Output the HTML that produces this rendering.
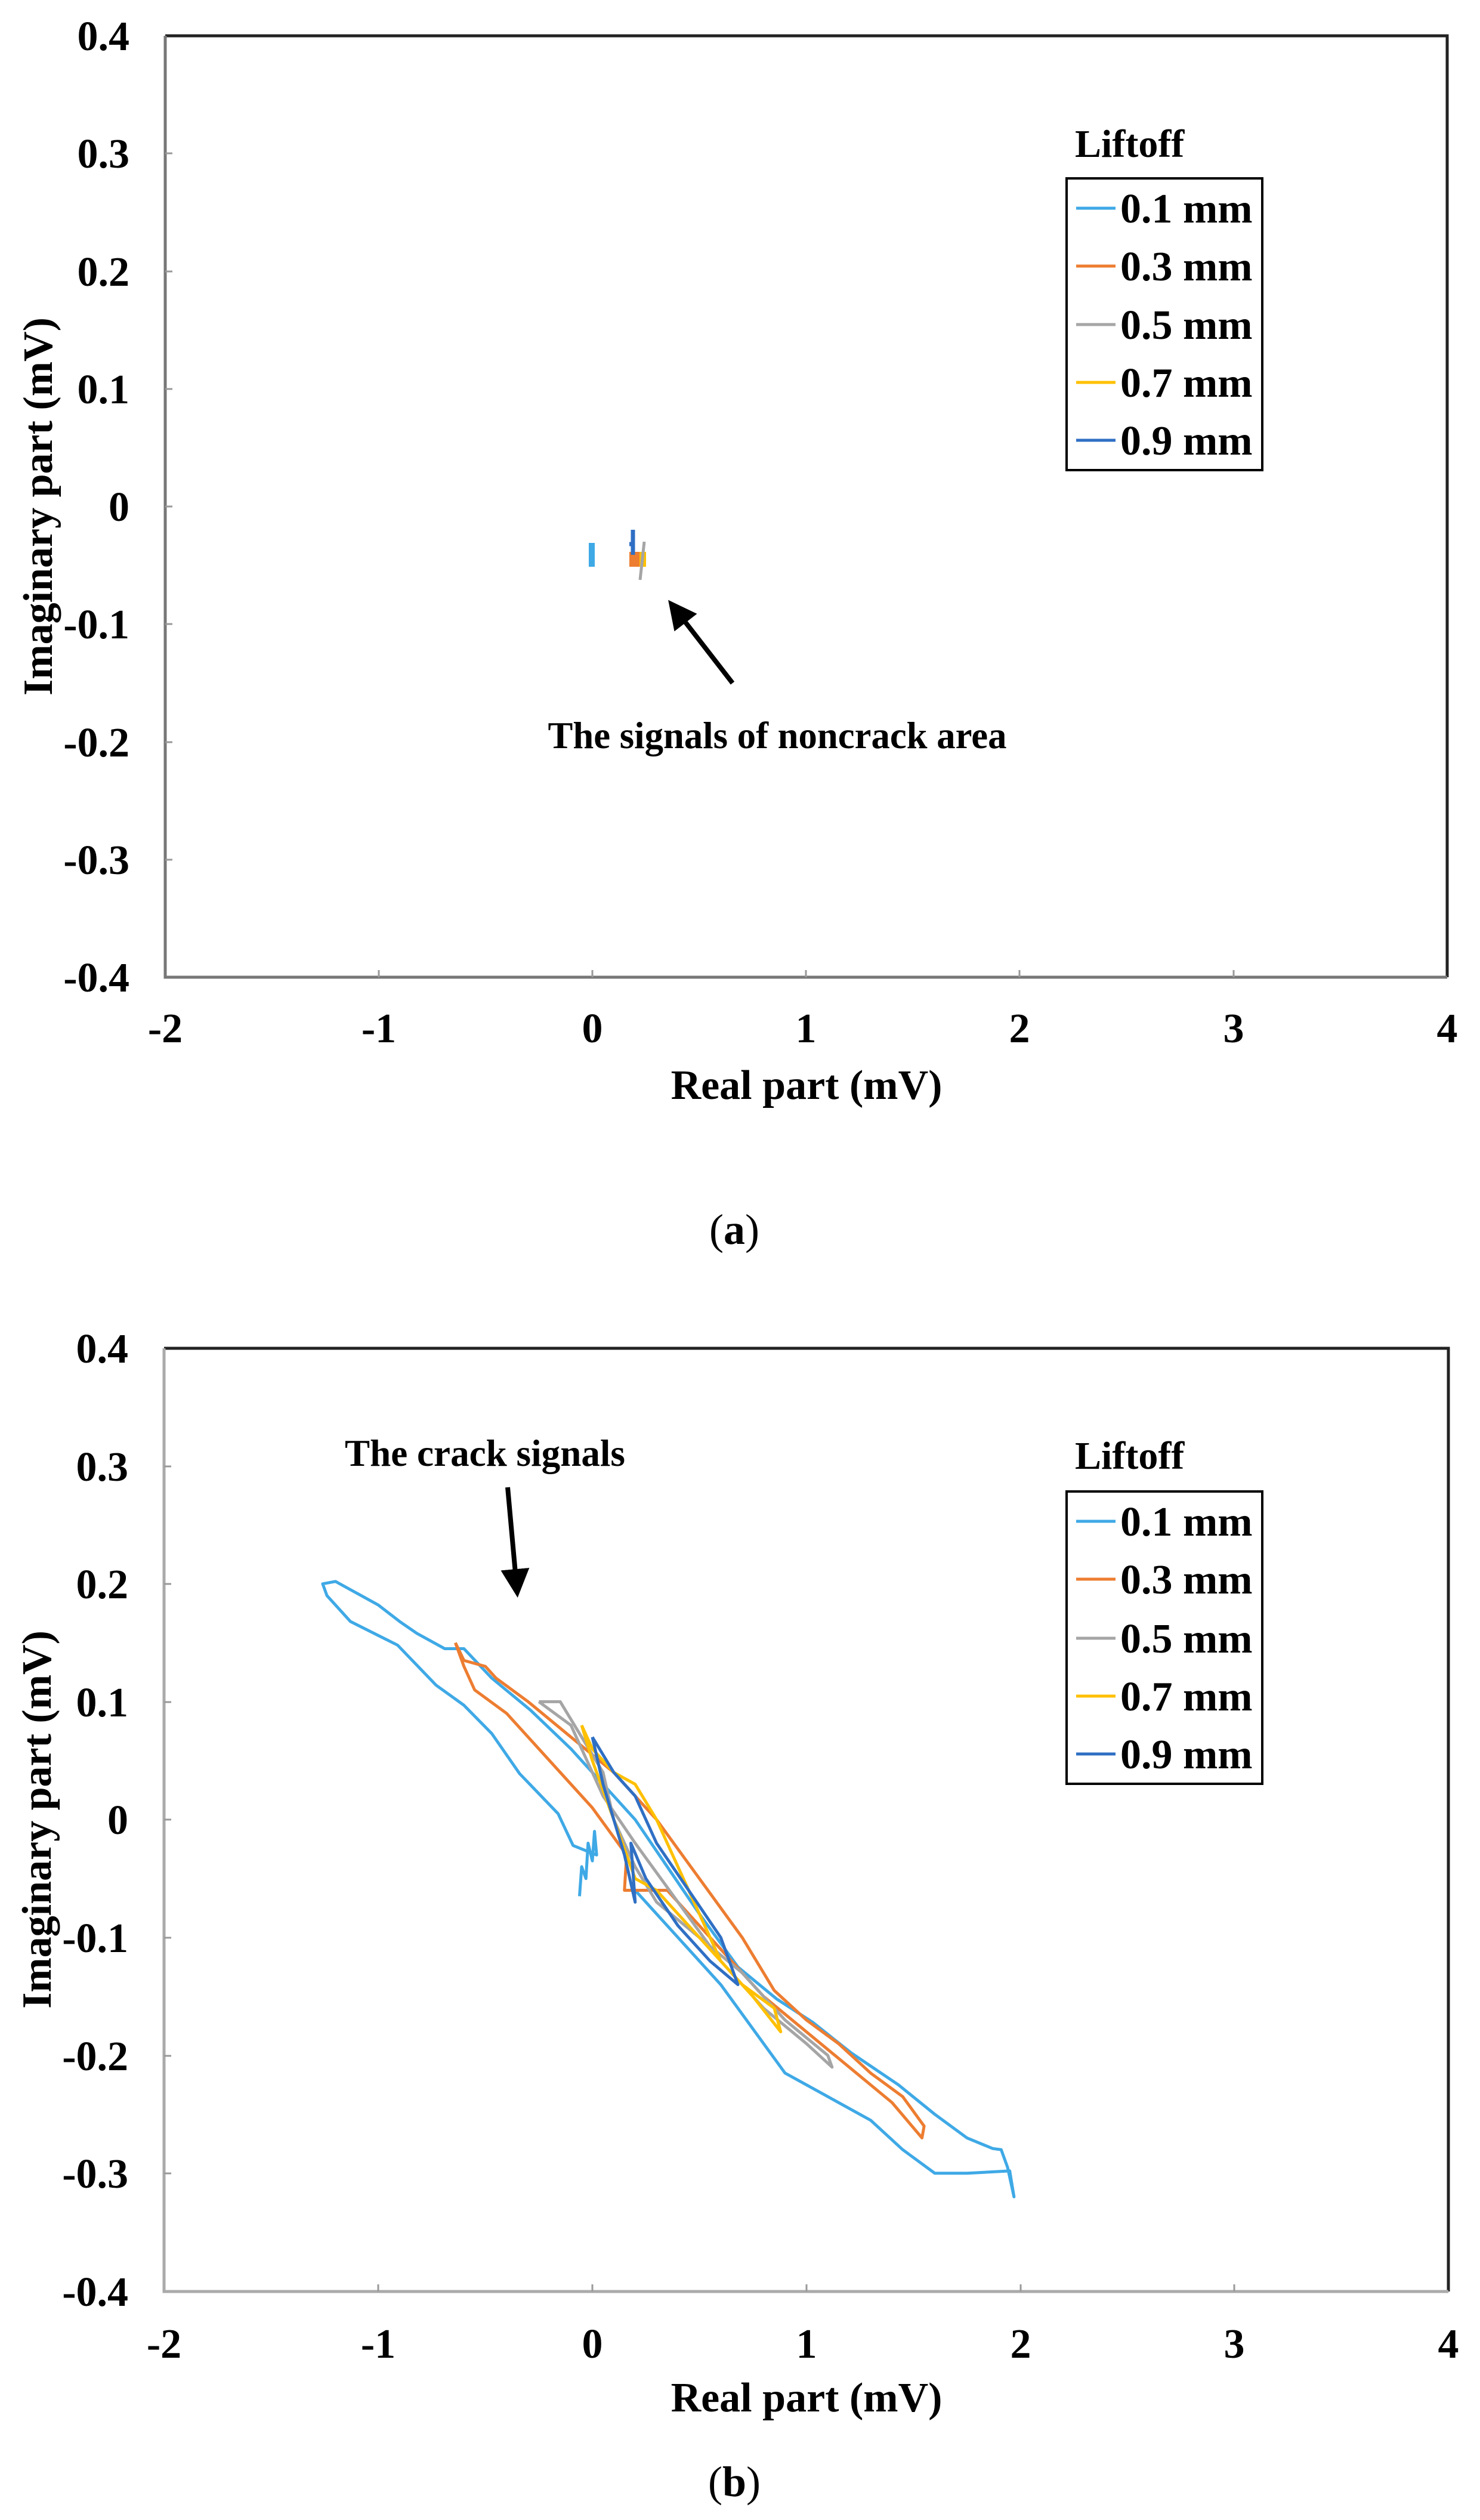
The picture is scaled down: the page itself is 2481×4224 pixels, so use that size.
<!DOCTYPE html>
<html><head><meta charset="utf-8"><style>
html,body{margin:0;padding:0;background:#fff}
svg{display:block}
text{font-family:"Liberation Serif",serif;font-weight:bold;fill:#000}
</style></head><body>
<svg width="2481" height="4224" viewBox="0 0 2481 4224" xmlns="http://www.w3.org/2000/svg">
<defs><marker id="ah" markerWidth="6" markerHeight="6" refX="5" refY="3" orient="auto" markerUnits="strokeWidth"><path d="M0,0 L6,3 L0,6 z" fill="#000"/></marker></defs>

<!-- ===== Plot (a) ===== -->
<path d="M277,60 H2426 V1638" fill="none" stroke="#222" stroke-width="5"/>
<path d="M277,60 V1638 H2426" fill="none" stroke="#777" stroke-width="5"/>
<g stroke="#999" stroke-width="3">
<line x1="635" y1="1638" x2="635" y2="1626"/><line x1="993" y1="1638" x2="993" y2="1626"/><line x1="1351" y1="1638" x2="1351" y2="1626"/><line x1="1709" y1="1638" x2="1709" y2="1626"/><line x1="2068" y1="1638" x2="2068" y2="1626"/>
<line x1="277" y1="257" x2="289" y2="257"/><line x1="277" y1="455" x2="289" y2="455"/><line x1="277" y1="652" x2="289" y2="652"/><line x1="277" y1="849" x2="289" y2="849"/><line x1="277" y1="1046" x2="289" y2="1046"/><line x1="277" y1="1244" x2="289" y2="1244"/><line x1="277" y1="1441" x2="289" y2="1441"/>
</g>
<g font-size="70" text-anchor="end">
<text x="217" y="84">0.4</text><text x="217" y="281">0.3</text><text x="217" y="479">0.2</text><text x="217" y="676">0.1</text><text x="217" y="873">0</text><text x="217" y="1070">-0.1</text><text x="217" y="1268">-0.2</text><text x="217" y="1465">-0.3</text><text x="217" y="1662">-0.4</text>
</g>
<g font-size="70" text-anchor="middle">
<text x="277" y="1747">-2</text><text x="635" y="1747">-1</text><text x="993" y="1747">0</text><text x="1351" y="1747">1</text><text x="1709" y="1747">2</text><text x="2068" y="1747">3</text><text x="2426" y="1747">4</text>
<text x="1352" y="1842">Real part (mV)</text>
</g>
<text font-size="70" text-anchor="middle" transform="translate(87,849) rotate(-90)">Imaginary part (mV)</text>
<text x="1802" y="263" font-size="66">Liftoff</text>
<rect x="1788" y="299" width="328" height="489" fill="#fff" stroke="#000" stroke-width="4"/>
<g stroke-width="5">
<line x1="1804" y1="349" x2="1870" y2="349" stroke="#3fa9e6"/>
<line x1="1804" y1="446" x2="1870" y2="446" stroke="#ed7d31"/>
<line x1="1804" y1="544" x2="1870" y2="544" stroke="#a5a5a5"/>
<line x1="1804" y1="641" x2="1870" y2="641" stroke="#ffc000"/>
<line x1="1804" y1="738" x2="1870" y2="738" stroke="#2f6fc4"/>
</g>
<g font-size="70">
<text x="1878" y="373">0.1 mm</text><text x="1878" y="470">0.3 mm</text><text x="1878" y="568">0.5 mm</text><text x="1878" y="665">0.7 mm</text><text x="1878" y="762">0.9 mm</text>
</g>
<text x="1303" y="1254" font-size="64" text-anchor="middle" textLength="769" lengthAdjust="spacingAndGlyphs">The signals of noncrack area</text>
<line x1="1228" y1="1145" x2="1125" y2="1012" stroke="#000" stroke-width="8" marker-end="url(#ah)"/>
<!-- data a -->
<line x1="992" y1="910" x2="992" y2="950" stroke="#3fa9e6" stroke-width="10"/>
<rect x="1055" y="925" width="20" height="25" fill="#ed7d31"/>
<rect x="1072" y="925" width="11" height="25" fill="#ffc000"/>
<line x1="1080" y1="908" x2="1073" y2="972" stroke="#a5a5a5" stroke-width="5"/>
<path d="M1061,888 V930 M1055,912 H1062" stroke="#2f6fc4" stroke-width="7" fill="none"/>
<text x="1231" y="2085" font-size="72" text-anchor="middle" style="font-weight:normal">(<tspan style="font-weight:bold">a</tspan>)</text>

<!-- ===== Plot (b) ===== -->
<path d="M275,2260 H2428 V3841" fill="none" stroke="#222" stroke-width="5"/>
<path d="M275,2260 V3841 H2428" fill="none" stroke="#aaa" stroke-width="5"/>
<g stroke="#999" stroke-width="3">
<line x1="634" y1="3841" x2="634" y2="3829"/><line x1="993" y1="3841" x2="993" y2="3829"/><line x1="1352" y1="3841" x2="1352" y2="3829"/><line x1="1711" y1="3841" x2="1711" y2="3829"/><line x1="2069" y1="3841" x2="2069" y2="3829"/>
<line x1="275" y1="2458" x2="287" y2="2458"/><line x1="275" y1="2655" x2="287" y2="2655"/><line x1="275" y1="2853" x2="287" y2="2853"/><line x1="275" y1="3050" x2="287" y2="3050"/><line x1="275" y1="3248" x2="287" y2="3248"/><line x1="275" y1="3446" x2="287" y2="3446"/><line x1="275" y1="3643" x2="287" y2="3643"/>
</g>
<g font-size="70" text-anchor="end">
<text x="215" y="2284">0.4</text><text x="215" y="2482">0.3</text><text x="215" y="2679">0.2</text><text x="215" y="2877">0.1</text><text x="215" y="3074">0</text><text x="215" y="3272">-0.1</text><text x="215" y="3470">-0.2</text><text x="215" y="3667">-0.3</text><text x="215" y="3865">-0.4</text>
</g>
<g font-size="70" text-anchor="middle">
<text x="275" y="3952">-2</text><text x="634" y="3952">-1</text><text x="993" y="3952">0</text><text x="1352" y="3952">1</text><text x="1711" y="3952">2</text><text x="2069" y="3952">3</text><text x="2428" y="3952">4</text>
<text x="1352" y="4042">Real part (mV)</text>
</g>
<text font-size="70" text-anchor="middle" transform="translate(85,3050) rotate(-90)">Imaginary part (mV)</text>
<text x="1802" y="2462" font-size="66">Liftoff</text>
<rect x="1788" y="2500" width="328" height="490" fill="#fff" stroke="#000" stroke-width="4"/>
<g stroke-width="5">
<line x1="1804" y1="2550" x2="1870" y2="2550" stroke="#3fa9e6"/>
<line x1="1804" y1="2647" x2="1870" y2="2647" stroke="#ed7d31"/>
<line x1="1804" y1="2746" x2="1870" y2="2746" stroke="#a5a5a5"/>
<line x1="1804" y1="2843" x2="1870" y2="2843" stroke="#ffc000"/>
<line x1="1804" y1="2940" x2="1870" y2="2940" stroke="#2f6fc4"/>
</g>
<g font-size="70">
<text x="1878" y="2574">0.1 mm</text><text x="1878" y="2671">0.3 mm</text><text x="1878" y="2770">0.5 mm</text><text x="1878" y="2867">0.7 mm</text><text x="1878" y="2964">0.9 mm</text>
</g>
<text x="813" y="2457" font-size="64" text-anchor="middle" textLength="470" lengthAdjust="spacingAndGlyphs">The crack signals</text>
<line x1="851" y1="2493" x2="867" y2="2670" stroke="#000" stroke-width="8" marker-end="url(#ah)"/>
<!-- data b -->
<g transform="translate(993,3050) scale(358.8,-1976)" fill="none" stroke-width="5" stroke-linejoin="round">
<path vector-effect="non-scaling-stroke" stroke="#3fa9e6" d="M-0.06,-0.065 L-0.05,-0.04 -0.03,-0.05 -0.02,-0.02 0,-0.035 0.01,-0.01 0.02,-0.03 -0.09,-0.022 -0.16,0.005 -0.34,0.039 -0.47,0.073 -0.6,0.097 -0.73,0.114 -0.91,0.148 -1.13,0.168 -1.24,0.19 -1.26,0.2 -1.2,0.202 -1.1,0.192 -1.0,0.182 -0.9,0.168 -0.82,0.158 -0.69,0.145 -0.6,0.145 -0.47,0.12 -0.29,0.093 -0.1,0.06 0.05,0.03 0.2,0.0 0.35,-0.04 0.5,-0.08 0.68,-0.125 0.86,-0.152 1.03,-0.172 1.21,-0.198 1.43,-0.225 1.6,-0.25 1.75,-0.27 1.87,-0.279 1.91,-0.28 1.94,-0.295 1.97,-0.32 1.95,-0.298 1.75,-0.3 1.6,-0.3 1.45,-0.28 1.3,-0.255 1.1,-0.235 0.9,-0.215 0.8,-0.19 0.6,-0.14 0.45,-0.11 0.3,-0.08 0.2,-0.06"/>
<path vector-effect="non-scaling-stroke" stroke="#ed7d31" d="M-0.64,0.15 L-0.6,0.135 -0.5,0.13 -0.45,0.12 -0.3,0.1 -0.1,0.07 0.1,0.04 0.3,0.0 0.5,-0.05 0.7,-0.1 0.85,-0.145 1.0,-0.17 1.15,-0.19 1.3,-0.215 1.45,-0.235 1.55,-0.26 1.54,-0.27 1.4,-0.24 1.2,-0.21 1.0,-0.18 0.8,-0.15 0.6,-0.11 0.35,-0.06 0.22,-0.06 0.15,-0.06 0.16,-0.03 0.0,0.01 -0.2,0.05 -0.4,0.09 -0.55,0.11 -0.6,0.13 -0.64,0.15"/>
<path vector-effect="non-scaling-stroke" stroke="#a5a5a5" d="M-0.25,0.1 L-0.15,0.1 -0.05,0.07 0.05,0.04 0.1,0.0 0.2,-0.04 0.3,-0.07 0.5,-0.1 0.7,-0.13 0.9,-0.17 1.1,-0.2 1.12,-0.21 1.0,-0.19 0.8,-0.16 0.6,-0.12 0.4,-0.07 0.2,-0.02 0.05,0.02 -0.1,0.08 -0.25,0.1"/>
<path vector-effect="non-scaling-stroke" stroke="#ffc000" d="M-0.05,0.08 L0.0,0.06 0.1,0.04 0.2,0.03 0.3,0.0 0.4,-0.04 0.5,-0.08 0.6,-0.12 0.75,-0.15 0.88,-0.18 0.85,-0.16 0.7,-0.14 0.5,-0.1 0.3,-0.06 0.2,-0.05 0.1,0.0 0.0,0.05 -0.05,0.08"/>
<path vector-effect="non-scaling-stroke" stroke="#2f6fc4" d="M0.0,0.07 L0.1,0.04 0.2,0.02 0.3,-0.02 0.45,-0.06 0.6,-0.1 0.68,-0.14 0.55,-0.12 0.4,-0.09 0.25,-0.05 0.18,-0.02 0.2,-0.07 0.15,-0.03 0.05,0.03 0.0,0.07"/>
</g>
<text x="1231" y="4184" font-size="72" text-anchor="middle" style="font-weight:normal">(<tspan style="font-weight:bold">b</tspan>)</text>
</svg>
</body></html>
